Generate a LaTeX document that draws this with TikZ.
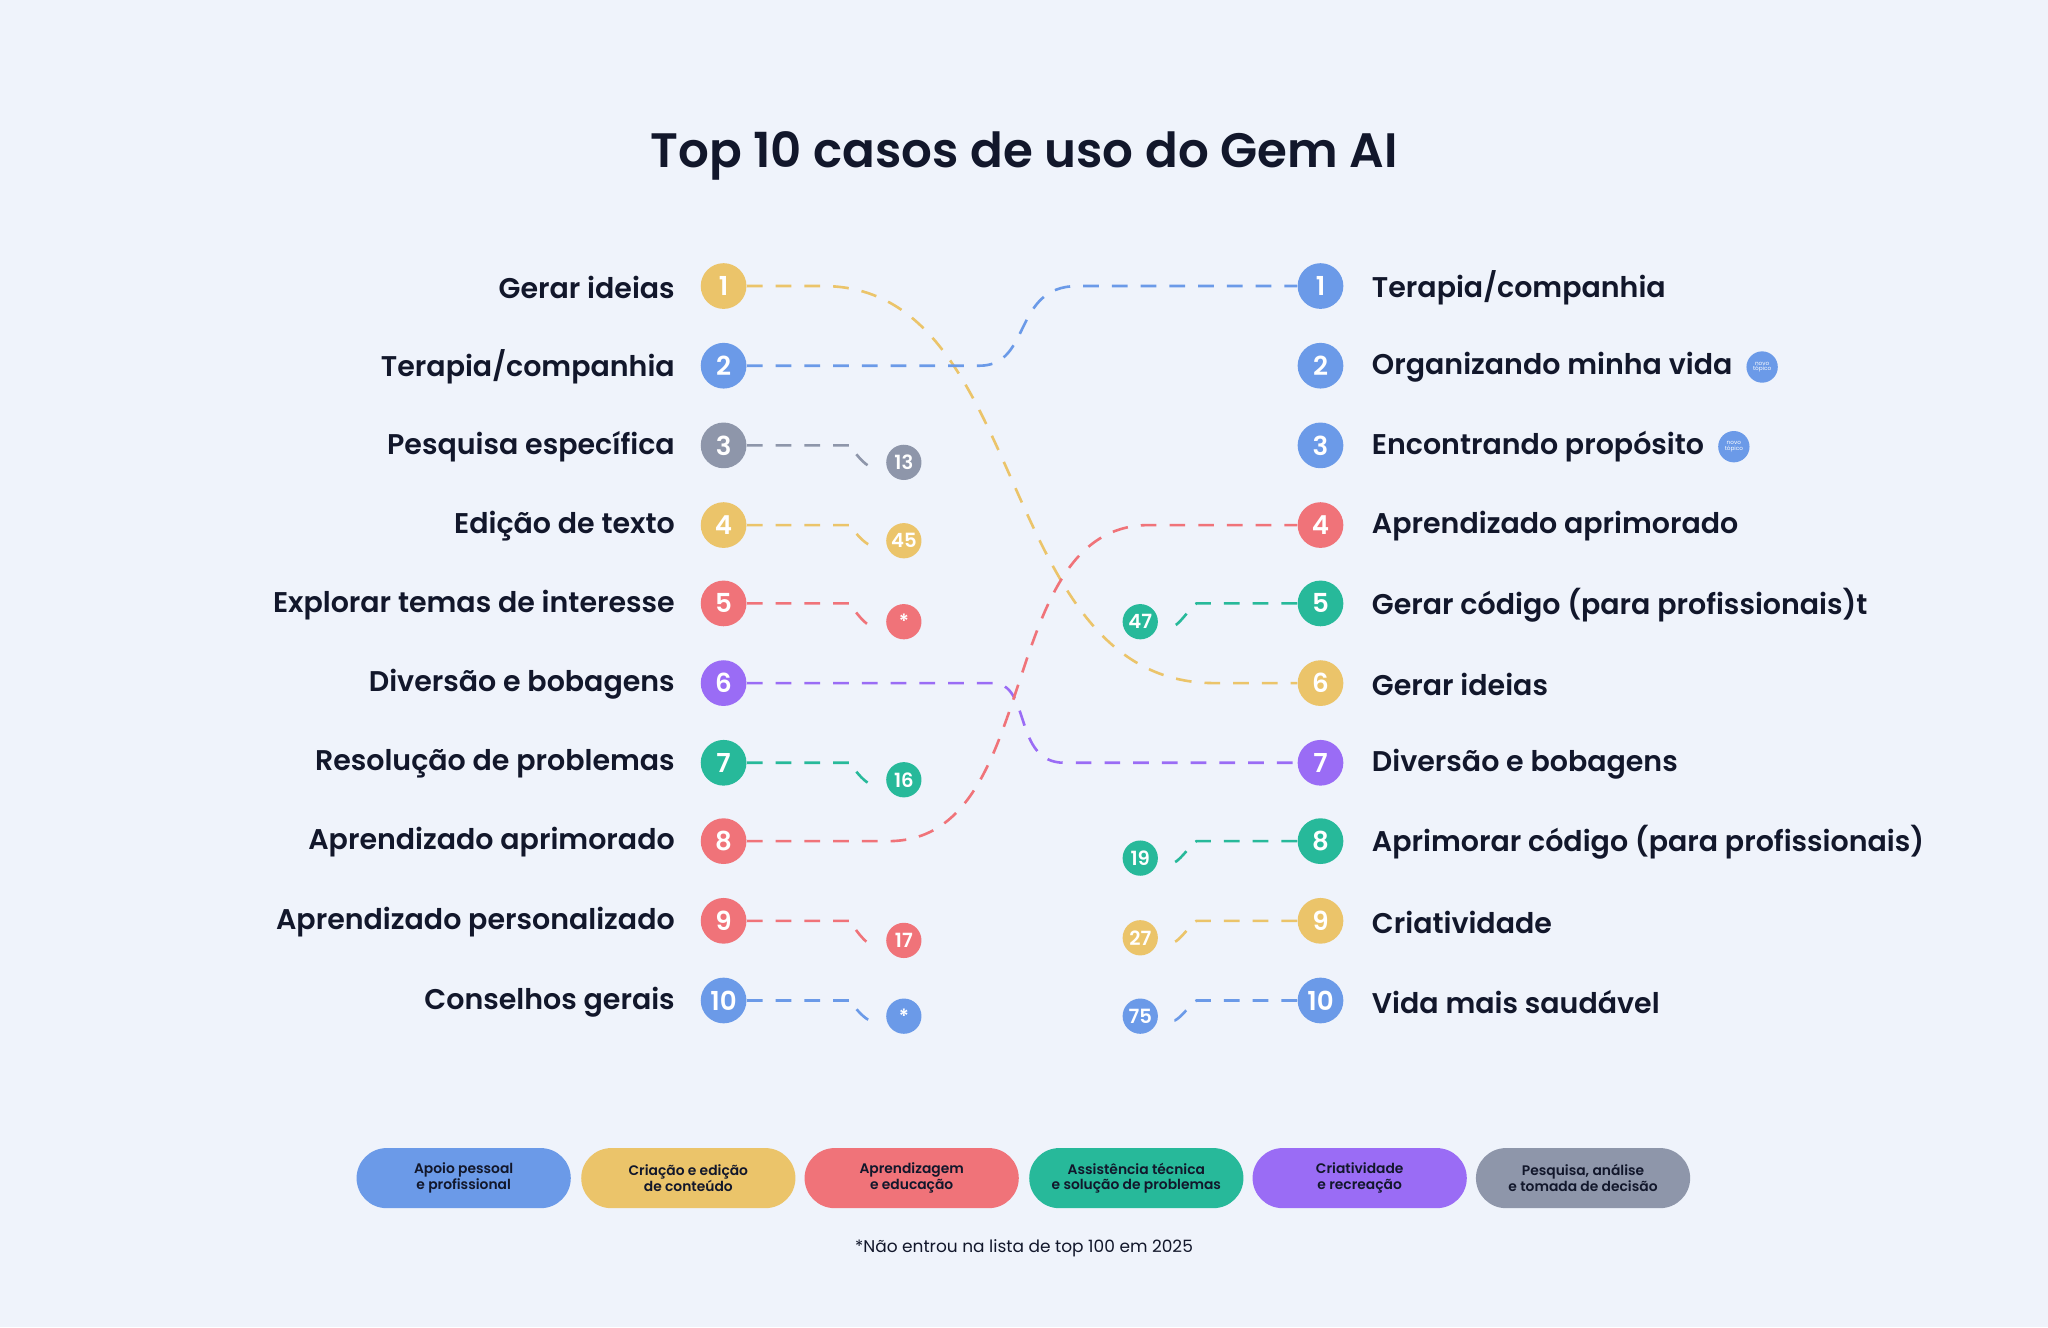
\documentclass[tikz,border=0pt]{standalone}
\usepackage{fontspec}
\usetikzlibrary{positioning}
\setmainfont{Poppins}[BoldFont={Poppins SemiBold}]
\definecolor{bg}{HTML}{EFF3FB}
\definecolor{cb}{HTML}{6B9AE8}
\definecolor{cy}{HTML}{EBC46A}
\definecolor{cg}{HTML}{8E96AA}
\definecolor{cr}{HTML}{F07379}
\definecolor{cp}{HTML}{9A6CF5}
\definecolor{ct}{HTML}{27B99A}
\definecolor{ink}{HTML}{12172B}
\tikzset{
 num/.style={circle,fill=#1,text=white,minimum size=17.5pt,inner sep=0pt,font=\fontsize{10}{10}\selectfont\bfseries},
 sm/.style={circle,fill=#1,text=white,minimum size=13.5pt,inner sep=0pt,font=\fontsize{7.5}{8}\selectfont\bfseries},
 lab/.style={text=ink,inner sep=0pt,font=\fontsize{10.9}{12}\selectfont\bfseries},
 con/.style={#1,line width=1pt,dash pattern=on 6pt off 5pt},
 pill/.style={fill=#1,rounded corners=11.5pt,minimum width=82pt,minimum height=23pt,inner sep=0pt,align=center,text=ink,font=\fontsize{5.3}{6}\selectfont\bfseries},
 badge/.style={circle,fill=cb,text=white,minimum size=12pt,inner sep=0pt,align=center,font=\fontsize{2.2}{2.2}\selectfont}
}
\begin{document}
\begin{tikzpicture}[x=0.5pt,y=-0.5pt]
\fill[bg] (0,0) rectangle (1568,1016);
\node[text=ink,font=\fontsize{18.5}{20}\selectfont\bfseries] (title) at (784,119) {Top 10 casos de uso do Gem AI};
% left
\foreach \i/\y/\c/\t in {1/219/cy/{Gerar ideias},2/280/cb/{Terapia/companhia},3/341/cg/{Pesquisa específica},4/402/cy/{Edição de texto},5/462/cr/{Explorar temas de interesse},6/523/cp/{Diversão e bobagens},7/584/ct/{Resolução de problemas},8/644/cr/{Aprendizado aprimorado},9/705/cr/{Aprendizado personalizado},10/766/cb/{Conselhos gerais}}{
 \node[num=\c] (L\i) at (554,\y) {\i};
 \node[lab,anchor=east] (LT\i) at (517,\y+1) {\t};
}
\foreach \i/\y/\c/\t in {1/219/cb/{Terapia/companhia},2/280/cb/{Organizando minha vida},3/341/cb/{Encontrando propósito},4/402/cr/{Aprendizado aprimorado},5/462/ct/{Gerar código (para profissionais)t},6/523/cy/{Gerar ideias},7/584/cp/{Diversão e bobagens},8/644/ct/{Aprimorar código (para profissionais)},9/705/cy/{Criatividade},10/766/cb/{Vida mais saudável}}{
 \node[num=\c] (R\i) at (1011,\y) {\i};
 \node[lab,anchor=west] (RT\i) at (1050,\y+1) {\t};
}
\node[badge,right=5pt of RT2] (b1) {novo\\tópico};
\node[badge,right=5pt of RT3] (b2) {novo\\tópico};
% left small
\foreach \i/\y/\c/\t in {3/354/cg/13,4/414/cy/45,5/476/cr/*,7/597/ct/16,9/720/cr/17,10/778/cb/*}{
 \node[sm=\c] (S\i) at (692,\y) {\t};
 \coordinate (e\i) at (669,\y);
 \draw[con=\c] (L\i.east) -- ++(80,0) .. controls ([xshift=-10]e\i |- L\i) and ([yshift=-6]e\i) .. (e\i);
}
\foreach \i/\y/\c/\t in {5/476/ct/47,8/657/ct/19,9/718/cy/27,10/778/cb/75}{
 \node[sm=\c] (T\i) at (873,\y) {\t};
 \coordinate (f\i) at (897,\y);
 \draw[con=\c] (R\i.west) -- ++(-77,0) .. controls ([xshift=8]f\i |- R\i) and ([yshift=-6]f\i) .. (f\i);
}
% crossing connectors
\draw[con=cy] (L1.east) -- (630,219) .. controls (790,219) and (760,523) .. (930,523) -- (R6.west);
\draw[con=cb] (L2.east) -- (750,280) .. controls (790,280) and (775,219) .. (825,219) -- (R1.west);
\draw[con=cp] (L6.east) -- (760,523) .. controls (790,523) and (775,584) .. (815,584) -- (R7.west);
\draw[con=cr] (L8.east) -- (680,644) .. controls (800,644) and (760,402) .. (880,402) -- (R4.west);
% legend
\foreach \k/\x/\c/\t in {1/355/cb/{Apoio pessoal\\e profissional},2/527/cy/{Criação e edição\\de conteúdo},3/698/cr/{Aprendizagem\\e educação},4/870/ct/{Assistência técnica\\e solução de problemas},5/1041/cp/{Criatividade\\e recreação},6/1212/cg/{Pesquisa, análise\\e tomada de decisão}}{
 \node[pill=\c] (P\k) at (\x,902) {\t};
}
\node[text=ink,font=\fontsize{6.5}{7}\selectfont] (foot) at (784,956) {*Não entrou na lista de top 100 em 2025};
\end{tikzpicture}
\end{document}
